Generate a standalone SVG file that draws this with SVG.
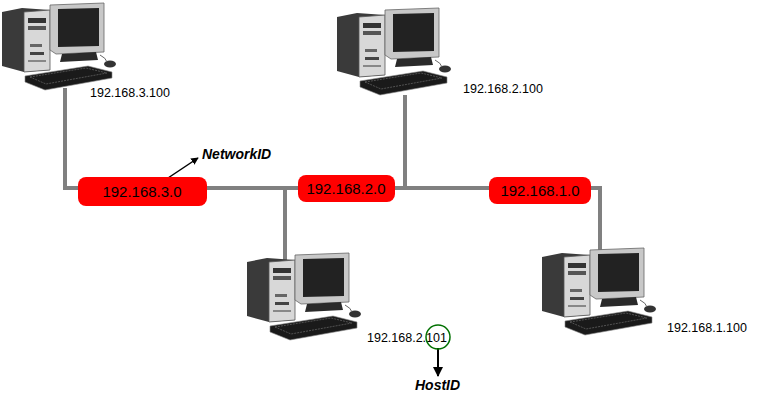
<svg xmlns="http://www.w3.org/2000/svg" width="765" height="404" viewBox="0 0 765 404">
<style>
.w{stroke:#808080;stroke-width:4;fill:none}
.pill{fill:#ff0000}
.pt{font-family:"Liberation Sans",Arial,sans-serif;font-size:15px;fill:#000;text-anchor:middle}
.ip{font-family:"Liberation Sans",Arial,sans-serif;font-size:12.5px;fill:#000}
.lb{font-family:"Liberation Sans",Arial,sans-serif;font-size:14px;font-weight:bold;font-style:italic;fill:#000}
</style>
<defs>
<marker id="ah" viewBox="0 0 10 10" refX="9" refY="5" markerWidth="5" markerHeight="5" orient="auto"><path d="M0,0L10,5L0,10z" fill="#000"/></marker>
<g id="pc">
<path d="M2,12 L22,8 L50,10 L50,70 L24,72 L2,66z" fill="#3a3a3a"/>
<path d="M24,12 L50,10 L50,70 L24,72z" fill="#d8d8d8" stroke="#555" stroke-width="0.8"/>
<rect x="28" y="18" width="18" height="5" fill="#333"/>
<rect x="28" y="26" width="18" height="4" fill="#555"/>
<rect x="30" y="44" width="12" height="3" fill="#666"/>
<rect x="30" y="52" width="14" height="3" fill="#444"/>
<rect x="28" y="60" width="18" height="2" fill="#888"/>
<path d="M50,5 L104,3 L104,52 L56,54 L50,50z" fill="#c8c8c8" stroke="#666" stroke-width="0.8"/>
<path d="M58,9 L99,8 L99,46 L58,47z" fill="#222"/>
<path d="M62,54 L96,52 L98,60 L60,62z" fill="#2a2a2a"/>
<path d="M25,76 L88,66 L112,72 L112,78 L45,90 L25,82z" fill="#1a1a1a" stroke="#888" stroke-width="0.6"/>
<path d="M30,77 L86,68 L107,73 L46,84z" fill="none" stroke="#777" stroke-width="0.6" stroke-dasharray="2 1"/>
<ellipse cx="110" cy="64" rx="6" ry="3.5" fill="#333"/>
<path d="M100,55 Q106,58 107,62" stroke="#666" fill="none"/>
</g>
</defs>
<g id="connectors">
<path class="w" d="M65,88 V188 H600 V250"/>
<path class="w" d="M405,95 V188"/>
<path class="w" d="M285,188 V262"/>
<path d="M168,178 L198,158" stroke="#000" stroke-width="1.5" marker-end="url(#ah)"/>
<path d="M438,348 L438,376" stroke="#000" stroke-width="2" marker-end="url(#ah)"/>
</g>
<g id="pc1"><use href="#pc" x="0" y="0"/><text class="ip" x="90" y="97">192.168.3.100</text></g>
<g id="pc2"><use href="#pc" x="335" y="5"/><text class="ip" x="463" y="93">192.168.2.100</text></g>
<g id="pc3"><use href="#pc" x="245" y="250"/><text class="ip" x="367" y="342">192.168.2.101</text><circle cx="438" cy="337" r="12" fill="none" stroke="#007000" stroke-width="1.5"/></g>
<g id="pc4"><use href="#pc" x="540" y="245"/><text class="ip" x="667" y="332">192.168.1.100</text></g>
<g id="n3"><rect class="pill" x="78" y="177" width="129" height="29" rx="8"/><text class="pt" x="142" y="197">192.168.3.0</text></g>
<g id="n2"><rect class="pill" x="298" y="175" width="97" height="27" rx="8"/><text class="pt" x="346" y="194">192.168.2.0</text></g>
<g id="n1"><rect class="pill" x="489" y="177" width="102" height="27" rx="8"/><text class="pt" x="540" y="196">192.168.1.0</text></g>
<text class="lb" x="202" y="159">NetworkID</text>
<text class="lb" x="415" y="390">HostID</text>
</svg>
